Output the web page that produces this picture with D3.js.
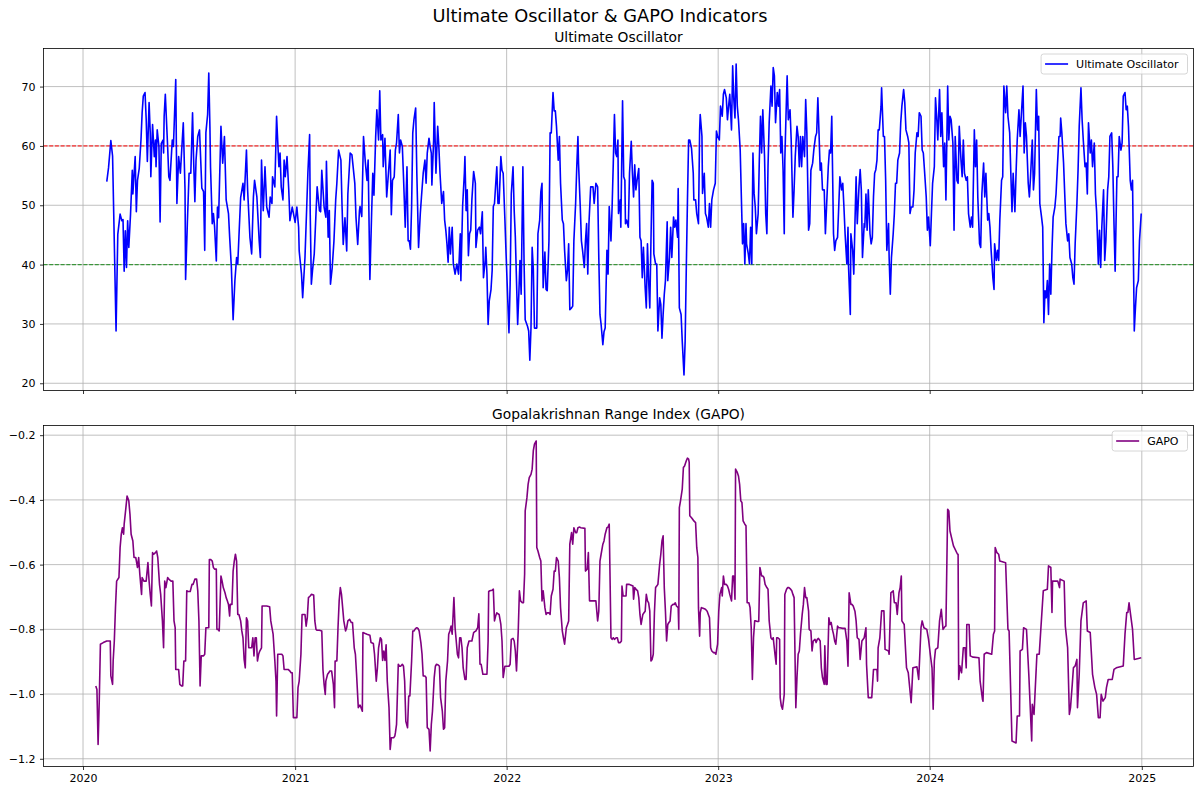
<!DOCTYPE html>
<html>
<head>
<meta charset="utf-8">
<script src="https://cdn.jsdelivr.net/npm/d3@7"></script>
<style>
  body { margin: 0; background: #fff; }
  svg { display: block; font-family: "DejaVu Sans", sans-serif; }
</style>
</head>
<body>
<svg id="chart" width="1200" height="794"></svg>
<script>
// ---- data: [day offset from 2020-01-01, value] ----
const uoPoints = [
  [41,54],[44,56.3],[48,60.9],[51,58.3],[57,28.8],[60,45.1],[64,48.5],[67,47.4],[69,47.6],[71,38.9],[73,45.7],[75,39.5],[77,47.4],[79,42.9],[82,48.5],[85,55.9],[86,51.9],[90,58.2],[92,48.9],[94,54.2],[97,56.2],[100,61],[102,65.6],[104,68.4],[107,69],[109,64.5],[111,57.4],[114,67.3],[116,62.2],[117,54.8],[120,63.6],[123,58.2],[125,61],[126,56.5],[128,62.7],[131,59.9],[133,47.2],[135,60.4],[138,61],[139,58.8],[140,65],[142,68.7],[144,64.3],[146,59.9],[148,54.8],[150,54.2],[154,61],[156,59.9],[160,71.2],[162,50.3],[165,58.2],[168,55.4],[173,63.9],[176,52.6],[177,37.5],[180,46.9],[183,55.4],[186,55.4],[189,65.6],[191,57.1],[193,50.6],[195,57.6],[198,61.6],[201,62.7],[205,52.9],[208,52.3],[210,42.4],[212,62.2],[215,65.3],[217,72.3],[219,63],[220,56.5],[223,46.9],[225,48.6],[227,46.4],[230,40.6],[232,49.7],[234,47.9],[238,63.3],[241,57.1],[244,61.6],[247,50.9],[251,48.6],[253,44.7],[256,39.5],[259,30.7],[262,37.2],[265,41.2],[267,40.1],[269,44.6],[272,51.3],[276,53.7],[278,50.9],[282,59.3],[284,52.6],[288,44.6],[291,41.8],[294,51.4],[296,54.2],[300,51.4],[304,44],[306,41.2],[308,57.6],[311,49.1],[314,56.5],[317,49.7],[321,48],[323,51.4],[326,50.3],[327,54.8],[331,53.1],[334,65],[338,56.5],[340,58.8],[342,53.1],[345,50.9],[347,57.6],[349,54.8],[352,58.2],[355,52.6],[357,47.4],[361,49.7],[366,47.1],[369,49.7],[372,46.3],[373,42.3],[377,38.4],[379,34.4],[383,41.2],[386,49.7],[388,55.4],[391,61.9],[392,48.9],[394,36.7],[396,39],[399,41.8],[402,48.6],[404,53.1],[408,49.1],[410,48.9],[412,55.9],[416,49.7],[419,48],[420,57.4],[423,44.6],[425,49.1],[427,36.7],[430,39.5],[433,44],[436,50.9],[438,53.7],[441,59.3],[445,57.6],[447,49.7],[449,43.4],[452,47.9],[455,42.3],[457,51.9],[461,58.8],[464,58.5],[469,53.7],[471,48],[474,43.4],[477,49.1],
  [478,49.8],[481,48.1],[484,61.6],[487,57.4],[490,54.2],[492,57.6],[495,37.5],[498,48.6],[500,55.4],[502,51.7],[505,61.6],[507,66.1],[510,61],[512,69.3],[514,61],[517,61.9],[518,56.5],[521,61.3],[524,51.4],[527,55.4],[530,59.3],[532,48.4],[534,54.2],[537,54.8],[539,59.3],[541,60.5],[544,65.3],[546,58.8],[548,61],[551,59.9],[553,54.8],[556,46.3],[559,56.5],[561,44],[563,44],[565,42.6],[567,49.8],[569,62.2],[571,64.4],[574,66.4],[576,55.4],[579,42.9],[582,48.6],[584,51.4],[587,55.4],[590,57.6],[592,53.7],[594,58.8],[597,61.3],[599,59.9],[601,58.8],[602,53.4],[605,61],[606,67.3],[609,55.4],[612,63.3],[614,59.9],[616,55.4],[619,50.3],[622,52.3],[624,47.5],[626,45.8],[628,43.5],[630,40.4],[632,46.3],[634,41.8],[637,46.3],[639,40.1],[642,38.4],[645,40.1],[648,38.4],[651,45.2],[652,37.3],[655,49.8],[658,55.4],[659,58.2],[661,49.1],[663,52.6],[665,41.5],[667,45.2],[669,45.8],[671,50.9],[674,55.7],[677,53.7],[678,42.9],[681,45.8],[684,46.3],[686,45.2],[689,48.9],[691,37.8],[694,40.7],[695,42.9],[697,38.4],[699,29.9],[701,33.9],[704,35.8],[706,39],[708,49.8],[710,50.3],[714,56.5],[716,50.3],[718,50.3],[721,58.2],[723,55.9],[725,55.4],[728,47.5],[730,41.8],[735,28.5],[737,36.7],[739,51.9],[742,56.5],[744,49.1],[746,44.6],[750,29.9],[752,35],[754,40.7],[756,35],[759,56.5],[761,40.7],[763,30.7],[767,29.6],[769,28.8],[771,23.9],[773,29.3],[775,42.9],[777,39.3],[779,29.3],[783,29.3],[785,45.2],[788,47.5],[790,52.3],[792,53.7],[794,36.1],[797,42.1],[799,35.8],[801,35.6],[804,44],[806,62.2],[808,62.2],[811,69],[813,65.9],[815,65.9],[817,63.3],[820,57.6],[822,61.6],[824,53.7],[827,47.5],[829,46.9],[831,42.4],[834,37.3],[836,39],[838,43.5],[840,32.4],[843,32.7],[845,33],[847,44],[850,50.3],[852,56.5],[854,61.6],[855,57.1],[858,49.8],[860,44],[862,42.4],[865,39.5],[867,44],[869,46.9],[871,38.4],[873,46.9],[876,53.1],[880,53.1],[882,50.3],[885,53.7],[888,53.1],[890,41.2],
  [892,31.6],[894,29.9],[897,26.5],[899,28.7],[901,29.3],[904,42.4],[906,38.4],[908,49.8],[911,44],[913,49.8],[915,57.1],[917,65.3],[919,58.8],[921,58.2],[923,61],[924,48.6],[927,50.9],[928,46.3],[931,67.6],[933,54.8],[935,54.2],[936,46.9],[938,47.5],[941,46.3],[943,55.4],[946,60.8],[948,55.4],[950,51.4],[952,56.8],[954,52.6],[956,54.2],[959,56.2],[961,44.6],[963,44],[965,37.8],[967,42.9],[970,36.1],[972,32.7],[974,43.5],[976,37.3],[978,32.7],[980,44],[982,54.2],[984,53.7],[985,41.8],[988,40.1],[990,40.1],[992,28.8],[995,34.4],[997,33.3],[999,27.6],[1001,31.6],[1003,35],[1005,37.3],[1008,47.2],[1009,37.3],[1012,41.2],[1014,46.3],[1016,41.2],[1019,48],[1021,46.3],[1023,47.5],[1026,44.6],[1027,52.8],[1029,32.7],[1032,31.6],[1034,27.1],[1037,21.4],[1039,27.1],[1041,39.5],[1043,50.9],[1045,61],[1047,61],[1050,59.6],[1053,55.4],[1054,50.9],[1057,50.9],[1059,48.6],[1062,46.9],[1064,62.7],[1065,65.3],[1068,61.6],[1069,52],[1072,55.4],[1074,48.6],[1076,48],[1079,46.3],[1081,50.3],[1083,46.3],[1085,50.9],[1088,52.6],[1091,53.7],[1093,62.5],[1095,61.6],[1098,61],[1100,66.7],[1103,65],[1105,68.7],[1107,69.5],[1110,68.1],[1112,64.4],[1114,66.7],[1116,68.7],[1119,62.7],[1121,73.5],[1123,67.8],[1125,64.7],[1127,73.8],[1129,66.7],[1131,64.4],[1134,59.3],[1136,51.4],[1138,43.5],[1140,46.9],[1142,40.1],[1144,46.9],[1145,43.5],[1148,41.8],[1150,40.1],[1152,46.3],[1154,40.1],[1156,58.8],[1158,52],[1160,49.7],[1162,45.2],[1165,48.6],[1167,57.6],[1169,65],[1171,58.8],[1173,66.1],[1176,58.2],[1178,48.6],[1180,45.2],[1182,56.5],[1184,63.9],[1187,70.1],[1189,66.7],[1191,73.2],[1193,71.8],[1195,63.9],[1198,69],[1200,66.7],[1202,69.5],[1204,58.8],[1206,61.6],[1208,55.9],[1210,45.2],[1211,57.6],[1213,65],[1215,71.8],[1217,64.4],[1220,66.1],[1222,61],[1225,48],[1227,52.6],[1229,58.2],[1232,63.3],[1234,61.6],[1236,56.5],[1238,61.6],[1240,56.5],[1242,61.6],[1245,58.2],[1247,67.8],[1249,62.2],[1252,45.8],[1254,46.9],[1256,55.9],[1259,57.1],[1261,59.3],[1264,61.6],[1266,62.2],[1268,68.1],[1270,62.2],[1272,55.9],[1274,57.1],[1276,52.6],[1279,52.6],[1281,45.2],[1283,49.7],[1286,56.5],[1288,59.3],[1290,58.8],[1292,65],[1295,45.2],[1297,42.4],[1299,44],[1302,44.6],[1304,49.7],[1306,54.8],[1309,52.6],[1311,53.7],[1313,49.7],[1315,45.2],[1318,40.1],[1320,46.3],[1321,39.5],[1324,31.6],[1325,45.2],[1328,42.5],[1330,38.4],[1332,46.9],[1334,54.8],[1336,46.9],[1339,53.1],
  [1341,56],[1343,52.6],[1345,41.2],[1348,46.9],[1349,46.3],[1351,51.9],[1353,45.8],[1355,52.6],[1358,45.2],[1360,43.5],[1362,44.6],[1364,51.4],[1366,55.4],[1368,56],[1370,57.6],[1372,62.7],[1374,62.7],[1377,66.7],[1378,69.8],[1381,61.6],[1383,61.6],[1385,54.2],[1387,42.4],[1390,46.9],[1391,41.2],[1393,35],[1395,41.2],[1398,45.2],[1400,48.6],[1402,53.7],[1404,53.7],[1406,57.6],[1409,58.8],[1411,63.9],[1413,66.7],[1416,69.5],[1418,67.3],[1420,62.7],[1423,61.6],[1425,60.5],[1427,48.6],[1429,49.7],[1432,49.7],[1434,52.6],[1436,58.8],[1439,62.2],[1441,61.6],[1443,65.6],[1446,65],[1448,59.3],[1450,58.8],[1452,55.9],[1455,51.4],[1457,45.8],[1459,48],[1462,43.2],[1464,48.6],[1466,53.7],[1469,56.5],[1471,68.1],[1473,65],[1475,61],[1478,69.5],[1480,61.6],[1482,65.6],[1485,56.5],[1487,60.5],[1489,50.9],[1492,70.1],[1494,61],[1496,65],[1498,64.4],[1501,60.5],[1503,45.8],[1505,61.6],[1508,54.2],[1510,53.7],[1512,63.3],[1515,57.6],[1517,54.8],[1519,61],[1521,55.4],[1524,54.2],[1526,54.8],[1528,48.6],[1531,46.3],[1533,48],[1535,46.3],[1538,62.7],[1540,56.5],[1542,61],[1544,51.4],[1547,43.5],[1549,42.9],[1551,51.9],[1554,57.1],[1556,51.4],[1558,55.4],[1561,47.5],[1563,48.6],[1565,46.3],[1567,42.4],[1570,37.8],[1572,35.8],[1573,43.5],[1576,40.7],[1578,42.4],[1580,40.7],[1582,47.5],[1585,54.2],[1587,54.8],[1589,70.1],[1592,65.6],[1594,70.1],[1596,65],[1599,62.2],[1601,55.4],[1603,48.9],[1605,55.4],[1608,48.9],[1610,55.4],[1612,61],[1615,66.1],[1617,61.6],[1619,65],[1622,70.1],[1624,58.8],[1626,63.9],[1628,61.6],[1631,53.7],[1633,51.4],[1635,54.8],[1638,61],[1640,52.6],[1642,55.4],[1645,69.5],[1647,62.7],[1649,65],[1651,50.3],[1654,48],[1656,46.3],[1658,30.2],[1660,35.6],[1662,34.4],[1664,37.3],[1666,31.6],[1668,40.1],[1670,35],[1672,42.4],[1674,48],[1677,49.7],[1679,51.9],[1681,55.9],[1684,61.6],[1686,61.6],[1687,64.7],[1689,62.2],[1692,57.1],[1694,51.9],[1696,46.9],[1699,44],[1701,45.2],[1703,41.2],[1706,40.1],[1708,37.8],[1710,36.7],[1712,43.5],[1715,50.3],[1717,55.9],[1719,63.3],[1722,69.8],[1724,64.4],[1726,61],[1729,56.5],[1731,57.1],[1733,51.9],[1735,63.9],[1738,58.8],[1740,61],[1742,56.5],[1745,60.5],[1747,51.9],[1749,48.9],[1752,40.1],[1754,45.8],[1756,39.5],[1758,46.3],[1761,52.6],[1763,40.7],[1765,44],[1768,52.6],[1770,54.8],[1772,61.6],[1775,62.2],[1777,56.5],[1779,46.9],[1781,38.9],[1784,54.8],[1786,54.8],[1788,61.6],[1791,59.3],[1793,60.5],[1795,68.4],[1798,69],[1800,66.1],[1802,66.7],[1804,63.3],[1807,54.2],[1809,52.6],[1811,54.2],[1814,28.8],[1816,32.7],[1818,36.1],[1821,37.3],[1823,44],[1826,48.6]
];

const gapoPoints = [
  [22,-0.975],[24,-0.986],[26,-1.156],[28,-1.022],[30,-0.846],[35,-0.841],[41,-0.836],[47,-0.836],[48,-0.944],[51,-0.970],[52,-0.898],[54,-0.836],[56,-0.733],[58,-0.651],[62,-0.640],[64,-0.547],[66,-0.506],[68,-0.486],[70,-0.506],[71,-0.475],[74,-0.424],[76,-0.388],[79,-0.403],[81,-0.444],[83,-0.506],[86,-0.527],[88,-0.578],[91,-0.578],[94,-0.609],[96,-0.578],[98,-0.630],[101,-0.692],[102,-0.640],[105,-0.651],[107,-0.651],[109,-0.651],[112,-0.594],[114,-0.651],[116,-0.692],[118,-0.728],[120,-0.563],[122,-0.568],[125,-0.563],[127,-0.558],[129,-0.578],[132,-0.661],[134,-0.692],[137,-0.774],[139,-0.857],[141,-0.651],[143,-0.671],[146,-0.640],[148,-0.645],[150,-0.648],[152,-0.651],[155,-0.651],[157,-0.774],[159,-0.795],[160,-0.924],[163,-0.924],[165,-0.924],[167,-0.970],[170,-0.975],[172,-0.975],[174,-0.898],[177,-0.898],[179,-0.681],[181,-0.683],[185,-0.683],[188,-0.661],[190,-0.661],[193,-0.645],[196,-0.645],[198,-0.681],[200,-0.774],[202,-0.975],[204,-0.882],[208,-0.882],[210,-0.877],[212,-0.795],[215,-0.795],[217,-0.795],[218,-0.584],[220,-0.584],[223,-0.589],[225,-0.609],[227,-0.614],[230,-0.614],[231,-0.800],[233,-0.800],[235,-0.805],[238,-0.635],[240,-0.651],[242,-0.671],[245,-0.687],[247,-0.702],[249,-0.712],[251,-0.723],[253,-0.759],[254,-0.723],[257,-0.723],[259,-0.620],[261,-0.589],[263,-0.568],[265,-0.589],[267,-0.754],[269,-0.754],[272,-0.774],[274,-0.805],[276,-0.826],[278,-0.893],[280,-0.919],[282,-0.764],[284,-0.774],[286,-0.857],[288,-0.857],[291,-0.857],[293,-0.826],[295,-0.882],[297,-0.826],[299,-0.826],[301,-0.898],[303,-0.877],[305,-0.867],[308,-0.857],[309,-0.728],[312,-0.728],[317,-0.728],[322,-0.730],[324,-0.774],[326,-0.795],[328,-0.815],[331,-0.898],[333,-0.960],[334,-1.068],[336,-0.877],[338,-0.877],[343,-0.877],[345,-0.882],[347,-0.924],[350,-0.924],[352,-0.924],[354,-0.924],[357,-0.929],[359,-0.934],[361,-0.934],[363,-1.073],[366,-1.073],[369,-1.073],[371,-0.980],[373,-0.960],[376,-0.877],[378,-0.754],[380,-0.754],[383,-0.754],[385,-0.790],[387,-0.764],[389,-0.702],[392,-0.697],[394,-0.692],[398,-0.694],[400,-0.774],[402,-0.800],[404,-0.803],[408,-0.803],[412,-0.805],[414,-0.924],[416,-0.970],[418,-1.001],[419,-0.960],[422,-0.939],[424,-0.934],[426,-0.929],[429,-0.929],[432,-0.970],[434,-1.042],[435,-0.898],[438,-0.898],[440,-0.795],[442,-0.712],[444,-0.671],[446,-0.692],[448,-0.733],[450,-0.774],[453,-0.805],[455,-0.795],[457,-0.774],[460,-0.769],[463,-0.779],[465,-0.779],[468,-0.857],[470,-0.877],[472,-0.939],[475,-1.042],
  [478,-1.034],[482,-1.053],[483,-0.810],[487,-0.813],[490,-0.815],[495,-0.818],[497,-0.841],[501,-0.844],[503,-0.877],[506,-0.960],[508,-0.919],[510,-0.857],[513,-0.826],[515,-0.831],[517,-0.896],[519,-0.867],[521,-0.896],[523,-0.848],[525,-0.960],[528,-1.042],[530,-1.171],[532,-1.135],[536,-1.135],[538,-1.130],[539,-1.120],[541,-1.094],[544,-0.908],[546,-0.914],[548,-0.914],[551,-0.908],[553,-0.914],[555,-0.960],[557,-1.084],[560,-1.104],[562,-1.006],[564,-1.006],[567,-0.898],[569,-0.805],[571,-0.805],[574,-0.797],[576,-0.795],[578,-0.797],[580,-0.805],[583,-0.841],[585,-0.877],[587,-0.944],[590,-0.944],[592,-0.949],[594,-1.104],[597,-1.109],[599,-1.176],[601,-1.094],[603,-1.053],[606,-0.949],[608,-0.914],[610,-0.908],[613,-0.910],[615,-0.914],[617,-1.011],[620,-1.053],[622,-1.109],[624,-1.104],[626,-0.960],[629,-0.898],[631,-0.815],[633,-0.805],[635,-0.790],[637,-0.815],[640,-0.702],[642,-0.795],[644,-0.836],[646,-0.877],[648,-0.888],[650,-0.826],[652,-0.826],[654,-0.857],[656,-0.919],[659,-0.955],[661,-0.955],[663,-0.857],[666,-0.836],[668,-0.836],[671,-0.836],[674,-0.810],[676,-0.807],[678,-0.805],[681,-0.795],[683,-0.752],[685,-0.908],[687,-0.908],[690,-0.939],[692,-0.939],[694,-0.939],[697,-0.939],[699,-0.836],[700,-0.683],[702,-0.681],[706,-0.679],[708,-0.676],[710,-0.774],[712,-0.759],[714,-0.749],[716,-0.752],[718,-0.754],[721,-0.785],[723,-0.836],[725,-0.949],[728,-0.914],[731,-0.914],[735,-0.914],[737,-0.908],[739,-0.831],[742,-0.828],[744,-0.836],[746,-0.867],[748,-0.929],[751,-0.805],[753,-0.681],[755,-0.712],[758,-0.718],[760,-0.718],[762,-0.630],[763,-0.434],[766,-0.393],[768,-0.352],[770,-0.331],[773,-0.321],[775,-0.305],[777,-0.248],[779,-0.228],[782,-0.218],[783,-0.547],[785,-0.558],[788,-0.578],[790,-0.589],[792,-0.712],[794,-0.681],[797,-0.733],[799,-0.754],[801,-0.749],[804,-0.749],[806,-0.754],[808,-0.697],[811,-0.676],[813,-0.620],[815,-0.620],[817,-0.578],[820,-0.589],[822,-0.640],[824,-0.733],[827,-0.805],[829,-0.826],[831,-0.846],[834,-0.795],[836,-0.785],[838,-0.774],[840,-0.537],[843,-0.501],[845,-0.537],[847,-0.486],[850,-0.501],[852,-0.501],[854,-0.486],[857,-0.484],[859,-0.486],[866,-0.488],[867,-0.620],[870,-0.614],[872,-0.563],[874,-0.712],[876,-0.712],[881,-0.712],[885,-0.712],[888,-0.774],[890,-0.744],
  [892,-0.589],[894,-0.568],[897,-0.537],[899,-0.527],[901,-0.506],[904,-0.486],[906,-0.484],[908,-0.475],[911,-0.826],[913,-0.831],[915,-0.826],[917,-0.831],[920,-0.826],[922,-0.826],[924,-0.841],[927,-0.841],[929,-0.836],[930,-0.666],[932,-0.697],[935,-0.697],[937,-0.697],[938,-0.661],[942,-0.661],[945,-0.663],[949,-0.666],[950,-0.707],[952,-0.671],[954,-0.676],[957,-0.681],[959,-0.702],[961,-0.754],[963,-0.785],[966,-0.754],[968,-0.749],[970,-0.744],[972,-0.692],[974,-0.712],[976,-0.718],[978,-0.744],[980,-0.898],[982,-0.893],[984,-0.877],[986,-0.749],[988,-0.671],[990,-0.666],[992,-0.661],[995,-0.599],[997,-0.568],[999,-0.527],[1001,-0.511],[1003,-0.671],[1005,-0.744],[1007,-0.836],[1009,-0.785],[1011,-0.779],[1013,-0.774],[1015,-0.728],[1018,-0.723],[1020,-0.723],[1022,-0.718],[1024,-0.728],[1027,-0.733],[1028,-0.800],[1029,-0.424],[1031,-0.403],[1034,-0.367],[1036,-0.300],[1038,-0.295],[1041,-0.279],[1043,-0.271],[1045,-0.274],[1046,-0.284],[1047,-0.449],[1050,-0.455],[1052,-0.460],[1054,-0.465],[1057,-0.470],[1059,-0.547],[1061,-0.578],[1062,-0.733],[1064,-0.821],[1065,-0.749],[1067,-0.733],[1070,-0.735],[1074,-0.738],[1077,-0.744],[1081,-0.764],[1083,-0.857],[1085,-0.867],[1088,-0.872],[1090,-0.872],[1092,-0.877],[1095,-0.846],[1097,-0.744],[1099,-0.692],[1102,-0.671],[1103,-0.697],[1105,-0.635],[1107,-0.661],[1110,-0.661],[1112,-0.666],[1114,-0.676],[1116,-0.692],[1119,-0.712],[1121,-0.635],[1123,-0.635],[1125,-0.707],[1126,-0.305],[1129,-0.315],[1131,-0.326],[1133,-0.352],[1135,-0.403],[1137,-0.408],[1139,-0.465],[1142,-0.475],[1144,-0.480],[1146,-0.718],[1149,-0.718],[1151,-0.733],[1153,-0.795],[1155,-0.955],[1157,-0.826],[1159,-0.774],[1161,-0.774],[1164,-0.776],[1166,-0.776],[1168,-0.609],[1171,-0.635],[1173,-0.635],[1175,-0.640],[1177,-0.661],[1180,-0.671],[1182,-0.676],[1184,-0.774],[1187,-0.826],[1189,-0.831],[1191,-0.826],[1194,-0.877],[1196,-0.908],[1197,-0.826],[1199,-0.826],[1202,-0.831],[1203,-1.011],[1205,-1.037],[1207,-1.047],[1210,-1.001],[1211,-0.692],[1214,-0.676],[1216,-0.671],[1218,-0.671],[1221,-0.676],[1223,-0.681],[1225,-0.692],[1227,-0.702],[1230,-1.042],[1232,-0.949],[1234,-0.877],[1236,-0.867],[1238,-0.815],[1241,-0.754],[1243,-0.723],[1245,-0.671],[1247,-0.702],[1249,-0.702],[1252,-0.744],[1253,-0.800],[1256,-0.805],[1258,-0.867],[1260,-0.836],[1263,-0.831],[1265,-0.841],[1267,-0.831],[1269,-0.828],[1272,-0.836],[1274,-0.919],[1276,-0.949],[1279,-0.970],[1280,-0.851],[1282,-0.970],[1284,-0.970],[1287,-0.764],[1289,-0.785],[1291,-0.779],[1293,-0.800],[1295,-0.815],[1297,-0.836],[1299,-0.846],[1302,-0.790],[1304,-0.795],[1306,-0.795],[1311,-0.797],[1315,-0.797],[1318,-0.836],[1320,-0.914],[1322,-0.687],[1325,-0.723],[1327,-0.723],[1329,-0.728],[1332,-0.744],[1334,-0.774],[1336,-0.826],[1339,-0.831],
  [1341,-0.893],[1344,-0.836],[1348,-0.826],[1351,-0.795],[1352,-0.908],[1355,-1.011],[1361,-1.011],[1364,-0.924],[1370,-0.924],[1371,-0.960],[1372,-0.857],[1375,-0.826],[1378,-0.743],[1382,-0.743],[1384,-0.862],[1390,-0.867],[1391,-0.877],[1394,-0.687],[1398,-0.681],[1400,-0.718],[1403,-0.718],[1405,-0.754],[1408,-0.687],[1410,-0.671],[1412,-0.635],[1413,-0.774],[1417,-0.785],[1421,-0.919],[1424,-0.934],[1429,-1.027],[1432,-0.919],[1439,-0.916],[1442,-0.955],[1446,-0.795],[1448,-0.774],[1451,-0.795],[1456,-0.800],[1459,-0.831],[1462,-0.877],[1465,-0.919],[1467,-1.047],[1469,-0.898],[1471,-0.862],[1475,-0.857],[1478,-0.774],[1481,-0.738],[1484,-0.800],[1488,-0.790],[1489,-0.790],[1492,-0.429],[1494,-0.434],[1496,-0.496],[1502,-0.542],[1509,-0.568],[1510,-0.568],[1511,-0.955],[1513,-0.913],[1516,-0.934],[1519,-0.857],[1522,-0.857],[1524,-0.919],[1525,-0.785],[1529,-0.785],[1531,-0.882],[1536,-0.886],[1546,-0.888],[1548,-0.960],[1552,-1.016],[1553,-1.022],[1555,-0.877],[1559,-0.872],[1568,-0.877],[1571,-0.815],[1573,-0.805],[1574,-0.547],[1577,-0.563],[1580,-0.568],[1582,-0.589],[1592,-0.594],[1596,-0.800],[1598,-0.805],[1603,-1.145],[1610,-1.151],[1612,-1.068],[1616,-1.068],[1617,-0.867],[1621,-0.862],[1623,-0.795],[1628,-0.800],[1632,-0.939],[1637,-1.145],[1638,-1.032],[1641,-1.063],[1646,-0.877],[1650,-0.877],[1657,-0.681],[1664,-0.676],[1666,-0.604],[1670,-0.609],[1672,-0.748],[1673,-0.651],[1682,-0.651],[1685,-0.671],[1686,-0.645],[1693,-0.651],[1695,-0.790],[1699,-0.857],[1702,-1.063],[1704,-1.042],[1707,-0.970],[1709,-0.919],[1712,-0.913],[1715,-0.893],[1716,-1.042],[1719,-0.939],[1722,-0.774],[1726,-0.718],[1731,-0.712],[1733,-0.805],[1738,-0.810],[1742,-0.939],[1746,-0.980],[1749,-1.001],[1752,-1.073],[1755,-1.073],[1757,-1.001],[1760,-1.022],[1764,-1.011],[1766,-0.980],[1769,-0.955],[1776,-0.955],[1779,-0.924],[1783,-0.919],[1795,-0.913],[1798,-0.815],[1801,-0.748],[1803,-0.748],[1805,-0.718],[1808,-0.759],[1811,-0.800],[1814,-0.893],[1821,-0.890],[1826,-0.888]
];

const yearTicks = [2020, 2021, 2022, 2023, 2024, 2025];
const uoTicks = [20, 30, 40, 50, 60, 70];
const gapoTicks = [-1.2, -1.0, -0.8, -0.6, -0.4, -0.2];
const overbought = 60;
const oversold = 40;

// ---- layout ----
const left = 43.5, right = 1193.5;
const topPanel = { top: 48.5, bottom: 390.5 };
const botPanel = { top: 425.5, bottom: 766.5 };
const gridColor = "#b0b0b0";

const epoch = Date.UTC(2020, 0, 1);
const toDate = d => new Date(epoch + d * 864e5);

const svg = d3.select("#chart");

// shared x (matplotlib-style 5% margins)
const allDays = uoPoints.map(p => p[0]).concat(gapoPoints.map(p => p[0]));
const dMin = d3.min(allDays), dMax = d3.max(allDays);
const dPad = (dMax - dMin) * 0.05;
const x = d3.scaleUtc()
    .domain([toDate(dMin - dPad), toDate(dMax + dPad)])
    .range([left, right]);

function paddedExtent(values) {
    const [lo, hi] = d3.extent(values);
    const pad = (hi - lo) * 0.05;
    return [lo - pad, hi + pad];
}

const yUO = d3.scaleLinear()
    .domain(paddedExtent(uoPoints.map(p => p[1])))
    .range([topPanel.bottom, topPanel.top]);
const yGAPO = d3.scaleLinear()
    .domain(paddedExtent(gapoPoints.map(p => p[1])))
    .range([botPanel.bottom, botPanel.top]);

const yearDates = yearTicks.map(y => new Date(Date.UTC(y, 0, 1)));
const minusFmt = f => v => f(v).replace("-", "\u2212");

function drawPanel(panel, y, yTicks, yFmt, showXLabels) {
    const g = svg.append("g");

    // grid
    g.append("g").selectAll("line").data(yearDates).join("line")
        .attr("x1", d => x(d)).attr("x2", d => x(d))
        .attr("y1", panel.top).attr("y2", panel.bottom)
        .attr("stroke", gridColor).attr("stroke-width", 0.8);
    g.append("g").selectAll("line").data(yTicks).join("line")
        .attr("x1", left).attr("x2", right)
        .attr("y1", d => y(d)).attr("y2", d => y(d))
        .attr("stroke", gridColor).attr("stroke-width", 0.8);

    // axes
    const xAxis = d3.axisBottom(x).tickValues(yearDates).tickSize(3.5).tickPadding(4)
        .tickFormat(showXLabels ? d3.utcFormat("%Y") : () => "");
    const yAxis = d3.axisLeft(y).tickValues(yTicks).tickSize(3.5).tickPadding(4.5)
        .tickFormat(yFmt);

    const xa = g.append("g").attr("transform", `translate(0,${panel.bottom})`).call(xAxis);
    const ya = g.append("g").attr("transform", `translate(${left},0)`).call(yAxis);
    [xa, ya].forEach(a => {
        a.select(".domain").remove();
        a.selectAll("line").attr("stroke", "#000").attr("stroke-width", 0.8);
        a.selectAll("text").attr("fill", "#000").style("font-size", "11px")
            .style("font-family", '"DejaVu Sans", sans-serif');
    });
    return g;
}

const gTop = drawPanel(topPanel, yUO, uoTicks, d3.format("d"), false);
const gBot = drawPanel(botPanel, yGAPO, gapoTicks, minusFmt(d3.format(".1f")), true);

// threshold lines
gTop.append("line")
    .attr("x1", left).attr("x2", right)
    .attr("y1", yUO(overbought)).attr("y2", yUO(overbought))
    .attr("stroke", "#ff0000").attr("stroke-width", 1)
    .attr("stroke-dasharray", "4,1.7");
gTop.append("line")
    .attr("x1", left).attr("x2", right)
    .attr("y1", yUO(oversold)).attr("y2", yUO(oversold))
    .attr("stroke", "#008000").attr("stroke-opacity", 0.7).attr("stroke-width", 1.2)
    .attr("stroke-dasharray", "4,1.7");

// series
const uoLine = d3.line().x(d => x(toDate(d[0]))).y(d => yUO(d[1]));
const gapoLine = d3.line().x(d => x(toDate(d[0]))).y(d => yGAPO(d[1]));

gTop.append("path").datum(uoPoints)
    .attr("d", uoLine).attr("fill", "none")
    .attr("stroke", "#0000ff").attr("stroke-width", 1.6)
    .attr("stroke-linejoin", "round");
gBot.append("path").datum(gapoPoints)
    .attr("d", gapoLine).attr("fill", "none")
    .attr("stroke", "#800080").attr("stroke-width", 1.6)
    .attr("stroke-linejoin", "round");

// frames
[topPanel, botPanel].forEach(p => {
    svg.append("rect")
        .attr("x", left).attr("y", p.top)
        .attr("width", right - left).attr("height", p.bottom - p.top)
        .attr("fill", "none").attr("stroke", "#000").attr("stroke-width", 0.8);
});

// legends
function legend(g, panel, label, color) {
    const lg = g.append("g");
    const box = lg.append("rect")
        .attr("fill", "#fff").attr("fill-opacity", 0.8)
        .attr("stroke", "#cccccc").attr("stroke-width", 0.8)
        .attr("rx", 2.5);
    const txt = lg.append("text")
        .attr("dominant-baseline", "central")
        .style("font-size", "11px")
        .text(label);
    const tw = txt.node().getComputedTextLength();
    const bw = tw + 44, bh = 20;
    const bx = right - 6 - bw, by = panel.top + 5.5;
    box.attr("x", bx).attr("y", by).attr("width", bw).attr("height", bh);
    lg.append("line")
        .attr("x1", bx + 4).attr("x2", bx + 27)
        .attr("y1", by + bh / 2).attr("y2", by + bh / 2)
        .attr("stroke", color).attr("stroke-width", 1.6);
    txt.attr("x", bx + 35).attr("y", by + bh / 2);
}
legend(gTop, topPanel, "Ultimate Oscillator", "#0000ff");
legend(gBot, botPanel, "GAPO", "#800080");

// titles
svg.append("text")
    .attr("x", 600).attr("y", 22)
    .attr("text-anchor", "middle")
    .style("font-size", "17.8px")
    .text("Ultimate Oscillator & GAPO Indicators");
svg.append("text")
    .attr("x", (left + right) / 2).attr("y", 42)
    .attr("text-anchor", "middle")
    .style("font-size", "13.8px")
    .text("Ultimate Oscillator");
svg.append("text")
    .attr("x", (left + right) / 2).attr("y", 418.5)
    .attr("text-anchor", "middle")
    .style("font-size", "13.8px")
    .text("Gopalakrishnan Range Index (GAPO)");
</script>
</body>
</html>
